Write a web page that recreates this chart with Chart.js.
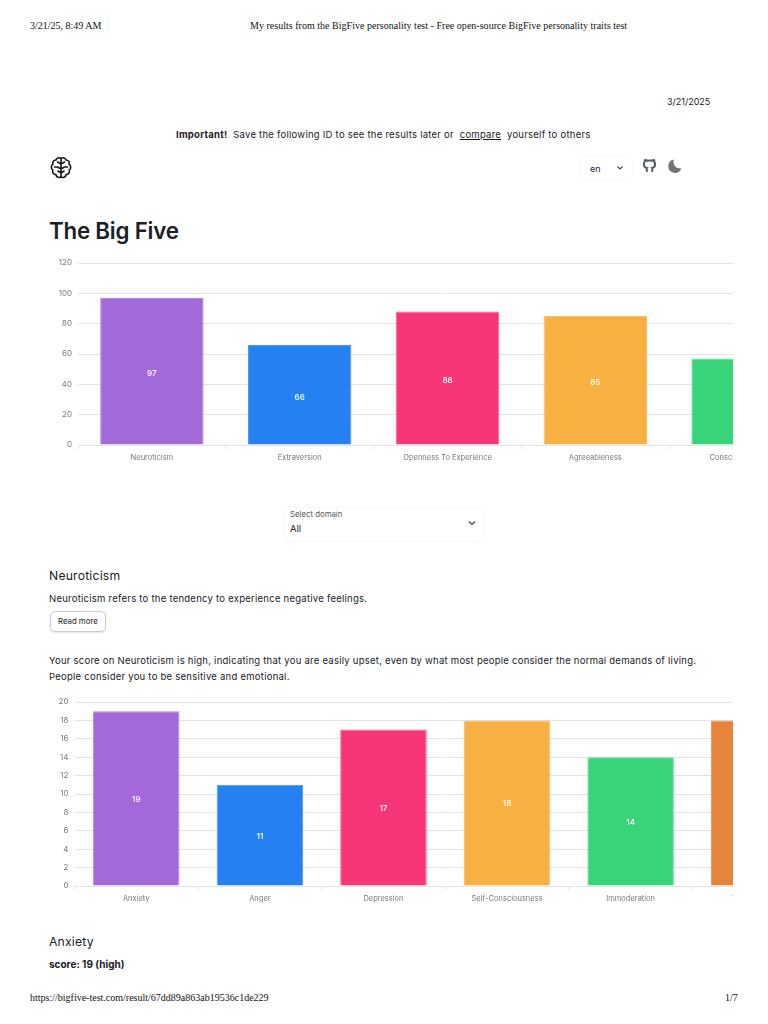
<!DOCTYPE html>
<html><head><meta charset="utf-8">
<script src="https://cdn.jsdelivr.net/npm/chart.js@4"></script>
<style>
html,body{margin:0;padding:0;background:#fff;width:768px;height:1024px;overflow:hidden}
body{position:relative;font-family:Inter,sans-serif;color:#1a2026}
.t{position:absolute;white-space:nowrap;line-height:1}
.s{font-family:"Liberation Serif",serif;font-size:10px;color:#111}
.clip{position:absolute;overflow:hidden}
canvas{display:block}
.box{position:absolute;background:#fff;border-radius:7px;box-shadow:0 0 3px rgba(0,0,0,.08)}
</style></head><body>
<div class="t s" style="left:30px;top:21px">3/21/25, 8:49 AM</div>
<div class="t s" style="left:250px;top:21px;letter-spacing:.02px">My results from the BigFive personality test - Free open-source BigFive personality traits test</div>
<div class="t" style="left:667px;top:97px;font-size:9px">3/21/2025</div>
<div class="t" style="left:176px;top:130px;font-size:9.5px;letter-spacing:.25px"><b>Important!</b>&nbsp; Save the following ID to see the results later or &nbsp;<u>compare</u>&nbsp; yourself to others</div>
<svg style="position:absolute;left:49px;top:156px" width="24" height="24" viewBox="0 0 24 24" fill="none" stroke="#15191d" stroke-width="1.6" stroke-linejoin="round" stroke-linecap="round"><path d="M12 2.5C10 1 7.5 2 7 4 4.5 4 3.2 6.2 4 8 1.8 9.5 1.8 13 3.8 14 3 16.5 4.5 18.5 6.8 18.5 7.2 21 10.5 22.5 12 20.5 13.5 22.5 16.8 21 17.2 18.5 19.5 18.5 21 16.5 20.2 14 22.2 13 22.2 9.5 20 8 20.8 6.2 19.5 4 17 4 16.5 2 14 1 12 2.5ZM12 2.5V20.5M12 8 8.5 6M12 8l3.5-2M12 13l-3.5-2H5.5M12 13l3.5-2h3M12 17l-3-2M12 17l3-2"/></svg>
<div class="box" style="left:582px;top:156px;width:50px;height:24px"></div>
<div class="t" style="left:590px;top:164px;font-size:9px">en</div>
<svg style="position:absolute;left:616px;top:165px" width="8" height="6" viewBox="0 0 8 6" fill="none" stroke="#444" stroke-width="1.1"><path d="M1.5 1.5 4 4l2.5-2.5"/></svg>
<svg style="position:absolute;left:642px;top:158px" width="15" height="15" viewBox="0 0 24 24" fill="none" stroke="#555b61" stroke-width="3.2" stroke-linecap="round"><path d="M8 21c-1-2-1-3.500 0-5-3.500-.5-5-2.500-5-6 0-1.500.5-3 1.500-4C4 4.500 4.300 3.500 5 3c1.500 0 2.500.5 3.500 1.500a12 12 0 0 1 7 0C16.500 3.500 17.500 3 19 3c.7.500 1 1.500.5 3 1 1 1.500 2.500 1.500 4 0 3.500-1.500 5.500-5 6 1 1.500 1 3 0 5"/></svg>
<svg style="position:absolute;left:668px;top:159px" width="14" height="14" viewBox="0 0 24 24"><path fill="#6f7479" d="M10 1a11.500 11.500 0 0 0 13 15A11.500 11.500 0 1 1 10 1Z"/></svg>
<div class="t" style="left:49px;top:220px;font-size:22.3px;font-weight:600;letter-spacing:-.2px">The Big Five</div>

<div class="clip" style="left:40px;top:250px;width:693px;height:220px"><canvas id="c1"></canvas></div>

<div class="box" style="left:284px;top:508px;width:200px;height:33px"></div>
<div class="t" style="left:290px;top:511px;font-size:7.8px;color:#555">Select domain</div>
<div class="t" style="left:290px;top:524px;font-size:9.5px">All</div>
<svg style="position:absolute;left:468px;top:520px" width="8" height="6" viewBox="0 0 8 6" fill="none" stroke="#444" stroke-width="1.2"><path d="M1 1.500 4 4.500l3-3"/></svg>

<div class="t" style="left:49px;top:570px;font-size:12.2px;letter-spacing:.2px">Neuroticism</div>
<div class="t" style="left:49px;top:594px;font-size:9.5px;letter-spacing:.25px">Neuroticism refers to the tendency to experience negative feelings.</div>
<div style="position:absolute;left:50px;top:611px;width:54px;height:19px;border:1px solid #c9cccf;border-radius:5px;box-shadow:0 1px 2px rgba(0,0,0,.12)"></div>
<div class="t" style="left:58px;top:618px;font-size:7.8px">Read more</div>
<div class="t" style="left:49px;top:656px;font-size:9.5px;letter-spacing:.25px">Your score on Neuroticism is high, indicating that you are easily upset, even by what most people consider the normal demands of living.</div>
<div class="t" style="left:49px;top:672px;font-size:9.5px;letter-spacing:.25px">People consider you to be sensitive and emotional.</div>

<div class="clip" style="left:40px;top:690px;width:693px;height:225px"><canvas id="c2"></canvas></div>

<div class="t" style="left:49px;top:936px;font-size:12.2px;letter-spacing:.2px">Anxiety</div>
<div class="t" style="left:49px;top:959px;font-size:10px;font-weight:700">score: 19 (high)</div>
<div class="t s" style="left:30px;top:993px">https://bigfive-test.com/result/67dd89a863ab19536c1de229</div>
<div class="t s" style="left:725px;top:993px">1/7</div>

<script>
const domainLabels = ['Neuroticism','Extraversion','Openness To Experience','Agreeableness','Conscientiousness'];
const domainScores = [97,66,88,85,57];
const domainTicks = [0,20,40,60,80,100,120];
const facetLabels = ['Anxiety','Anger','Depression','Self-Consciousness','Immoderation','Vulnerability'];
const facetScores = [19,11,17,18,14,18];
const facetTicks = [0,2,4,6,8,10,12,14,16,18,20];
const barColors = ['#a369d8','#2581f1','#f7367a','#f7b143','#39d37a','#e6843b'];
const barEdges = ['#b884e2','#4a98f5','#f95c92','#f9be64','#5bdb91','#eb9858'];

const centerLabels = {
  id:'centerLabels',
  afterDatasetsDraw(chart,args,opts){
    const ctx = chart.ctx, meta = chart.getDatasetMeta(0), data = chart.data.datasets[0].data;
    ctx.save();
    ctx.fillStyle='rgba(255,255,255,.92)'; ctx.font='600 8px Inter'; ctx.textAlign='center'; ctx.textBaseline='middle';
    meta.data.forEach((b,i)=>{ ctx.fillText(String(data[i]), b.x, (b.y+b.base)/2+opts.dy); });
    ctx.restore();
  }
};
function make(id,w,h,labels,values,ticks,max,yw,top,bottom,dy){
  const el=document.getElementById(id);
  el.width=w; el.height=h; el.style.width=w+'px'; el.style.height=h+'px';
  new Chart(el,{
    type:'bar',
    data:{labels,datasets:[{data:values,backgroundColor:barColors,borderColor:barEdges,borderWidth:1,barPercentage:.7,categoryPercentage:1}]},
    plugins:[centerLabels],
    options:{
      responsive:false,animation:false,devicePixelRatio:1,
      layout:{padding:{top,bottom:0,left:0,right:0}},
      plugins:{legend:{display:false},tooltip:{enabled:false},centerLabels:{dy}},
      scales:{
        x:{grid:{color:'#e3e4e6',lineWidth:1,tickLength:4,drawOnChartArea:false},border:{color:'#e3e4e6'},
           ticks:{color:'#75797e',font:{size:7.5,family:'Inter'},maxRotation:0,autoSkip:false,padding:4},
           afterFit(s){s.height=bottom;}},
        y:{min:0,max,grid:{color:'#e3e4e6',lineWidth:1,drawTicks:false},border:{display:false},
           afterBuildTicks(s){s.ticks=ticks.map(v=>({value:v}));},
           ticks:{color:'#75797e',font:{size:8,family:'Inter'},padding:6},
           afterFit(s){s.width=yw;}}
      }
    }
  });
}
make('c1',777,220,domainLabels,domainScores,domainTicks,120,38,13,25,2.5);
make('c2',776,225,facetLabels,facetScores,facetTicks,20,34.5,12,29,1);
</script>
</body></html>
